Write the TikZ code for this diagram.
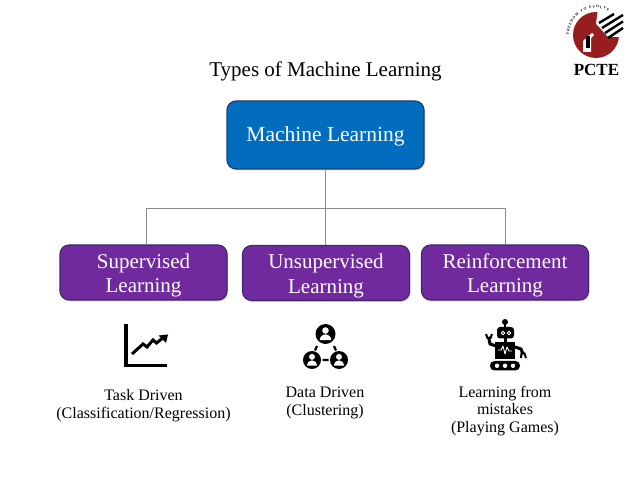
\documentclass[tikz,border=0pt]{standalone}
\usepackage{fontspec}
\setmainfont{Liberation Serif}
\usetikzlibrary{shadows,decorations.text}
\definecolor{mlblue}{RGB}{2,108,190}
\definecolor{mlpurple}{RGB}{112,42,158}
\definecolor{edgeblue}{RGB}{35,62,100}
\definecolor{edgepurple}{RGB}{60,40,110}
\definecolor{logored}{RGB}{150,30,30}
\tikzset{
  box/.style={draw, line width=1.1pt, rounded corners=9pt, align=center, text=white,
    inner sep=0pt, drop shadow={shadow xshift=1.2pt, shadow yshift=-1.4pt, opacity=.35}},
  topbox/.style={box, fill=mlblue, draw=edgeblue, minimum width=197pt, minimum height=68pt, font=\fontsize{21.5}{26}\selectfont},
  subbox/.style={box, fill=mlpurple, draw=edgepurple, minimum width=167pt, minimum height=55pt, font=\fontsize{21}{24.5}\selectfont},
  wire/.style={draw=black!45, line width=.7pt},
  caption/.style={align=center, text=black, font=\fontsize{16}{17.7}\selectfont, inner sep=0pt},
}
\newcommand{\personicon}[3]{%
  \fill[black] (#1,#2) circle (#3pt);
  \fill[white] (#1,#2-0.35*#3) circle (0.33*#3pt);
  \fill[white] (#1-0.58*#3,#2+0.62*#3) arc[start angle=180,end angle=0,radius=0.58*#3pt] -- cycle;
}
\begin{document}
\begin{tikzpicture}[x=1pt,y=-1pt]
\useasboundingbox (0,0) rectangle (638,478);
\fill[white] (0,0) rectangle (638,478);
% title
\node[inner sep=0pt, font=\fontsize{21}{26}\selectfont] (title) at (325.5,71) {Types of Machine Learning};
% boxes
\node[topbox] (ml) at (325.5,135) {\rule{0pt}{18pt}Machine Learning\rule[-2pt]{0pt}{2pt}};
\node[subbox] (sup) at (143.5,272.5) {\rule{0pt}{21pt}Supervised\\Learning\rule[-3pt]{0pt}{3pt}};
\node[subbox] (uns) at (326,273) {\rule{0pt}{21pt}Unsupervised\\Learning\rule[-3pt]{0pt}{3pt}};
\node[subbox] (rei) at (505,272.5) {\rule{0pt}{21pt}Reinforcement\\Learning\rule[-3pt]{0pt}{3pt}};
% connectors
\coordinate (hub) at (325.5,208);
\coordinate (supdrop) at (146,245);
\draw[wire] (ml.south) -- (hub);
\draw[wire] (hub) -- (uns.north -| hub);
\draw[wire] (hub) -| (supdrop);
\draw[wire] (hub) -| (rei.north);
% captions
\node[caption] (c1) at (143.5,406) {Task Driven\\(Classification/Regression)};
\node[caption] (c2) at (325,403) {Data Driven\\(Clustering)};
\node[caption] (c3) at (505,411) {Learning from\\mistakes\\(Playing Games)};
% chart icon
\draw[line width=3.4pt,line join=miter] (126,324) -- (126,365.5) -- (167,365.5);
\draw[line width=3pt,line join=miter] (132,354) -- (143,344) -- (147,347) -- (153,340) -- (156.5,343) -- (164,337);
\fill[black] (168,334.5) -- (158.5,335.5) -- (166,343) -- cycle;
% network icon
\personicon{325.5}{334}{10}
\personicon{312}{360}{9}
\personicon{339}{360}{9}
\draw[line width=2.2pt] (317,346) -- (315,350.5) (334,346) -- (336,350.5) (322.5,360) -- (328.5,360);
% robot icon
\fill[black] (505,322) circle (3pt);
\draw[line width=2pt] (505,322) -- (505,328);
\fill[black,rounded corners=3pt] (497,327) rectangle (514,338.5);
\foreach \ex in {503,509}{\draw[white,line width=.8pt] (\ex,333) circle (1.7pt);}
\draw[line width=3pt] (505,338) -- (505,343);
\fill[black] (495,342) rectangle (515,359.5);
\draw[white,line width=.9pt,line join=round] (498,350) -- (501,350) -- (503,346) -- (505,354) -- (507,347) -- (509,351) -- (512,351);
\draw[line width=3pt,line join=round] (496,346) -- (490,344) -- (488.5,337);
\draw[line width=2pt] (486,334) -- (487.5,338) -- (490.5,338) -- (492,334);
\draw[line width=3pt,line join=round] (515,347) -- (521,349) -- (523,354);
\draw[line width=2pt] (521,358) -- (521.5,353.5) -- (524.5,353.5) -- (526,358);
\fill[black,rounded corners=4.5pt] (490,361) rectangle (520,370.5);
\foreach \wx in {497,505,513}{\fill[white] (\wx,365.8) circle (2.2pt);}
% logo
\fill[logored] (596,35) circle (23pt);
\fill[white] (598,8) -- (630,8) -- (630,37) -- (608,37) -- (600,28) -- (596,24) -- cycle;
\fill[white] (583,41) -- (592,33) -- (594,35) -- (591,38) -- (591,52) -- (583,52) -- cycle;
\fill[black] (585.5,36.5) rectangle (589.5,48);
\draw[black,line width=2.4pt] (599,23) -- (614,14) (602,28) -- (623,15) (605,33) -- (623,21.5) (608,38) -- (623,28);
\path[decorate,decoration={text along path,text align=fit to path,
  text={|\fontsize{3.6}{5}\selectfont\bfseries|FREEDOM TO EVOLVE}}]
  (569,35) arc[start angle=180,end angle=62,radius=27pt];
\node[inner sep=0pt,font=\fontsize{17}{18}\selectfont\bfseries] (logo) at (596.5,69.5) {PCTE};
\end{tikzpicture}
\end{document}
